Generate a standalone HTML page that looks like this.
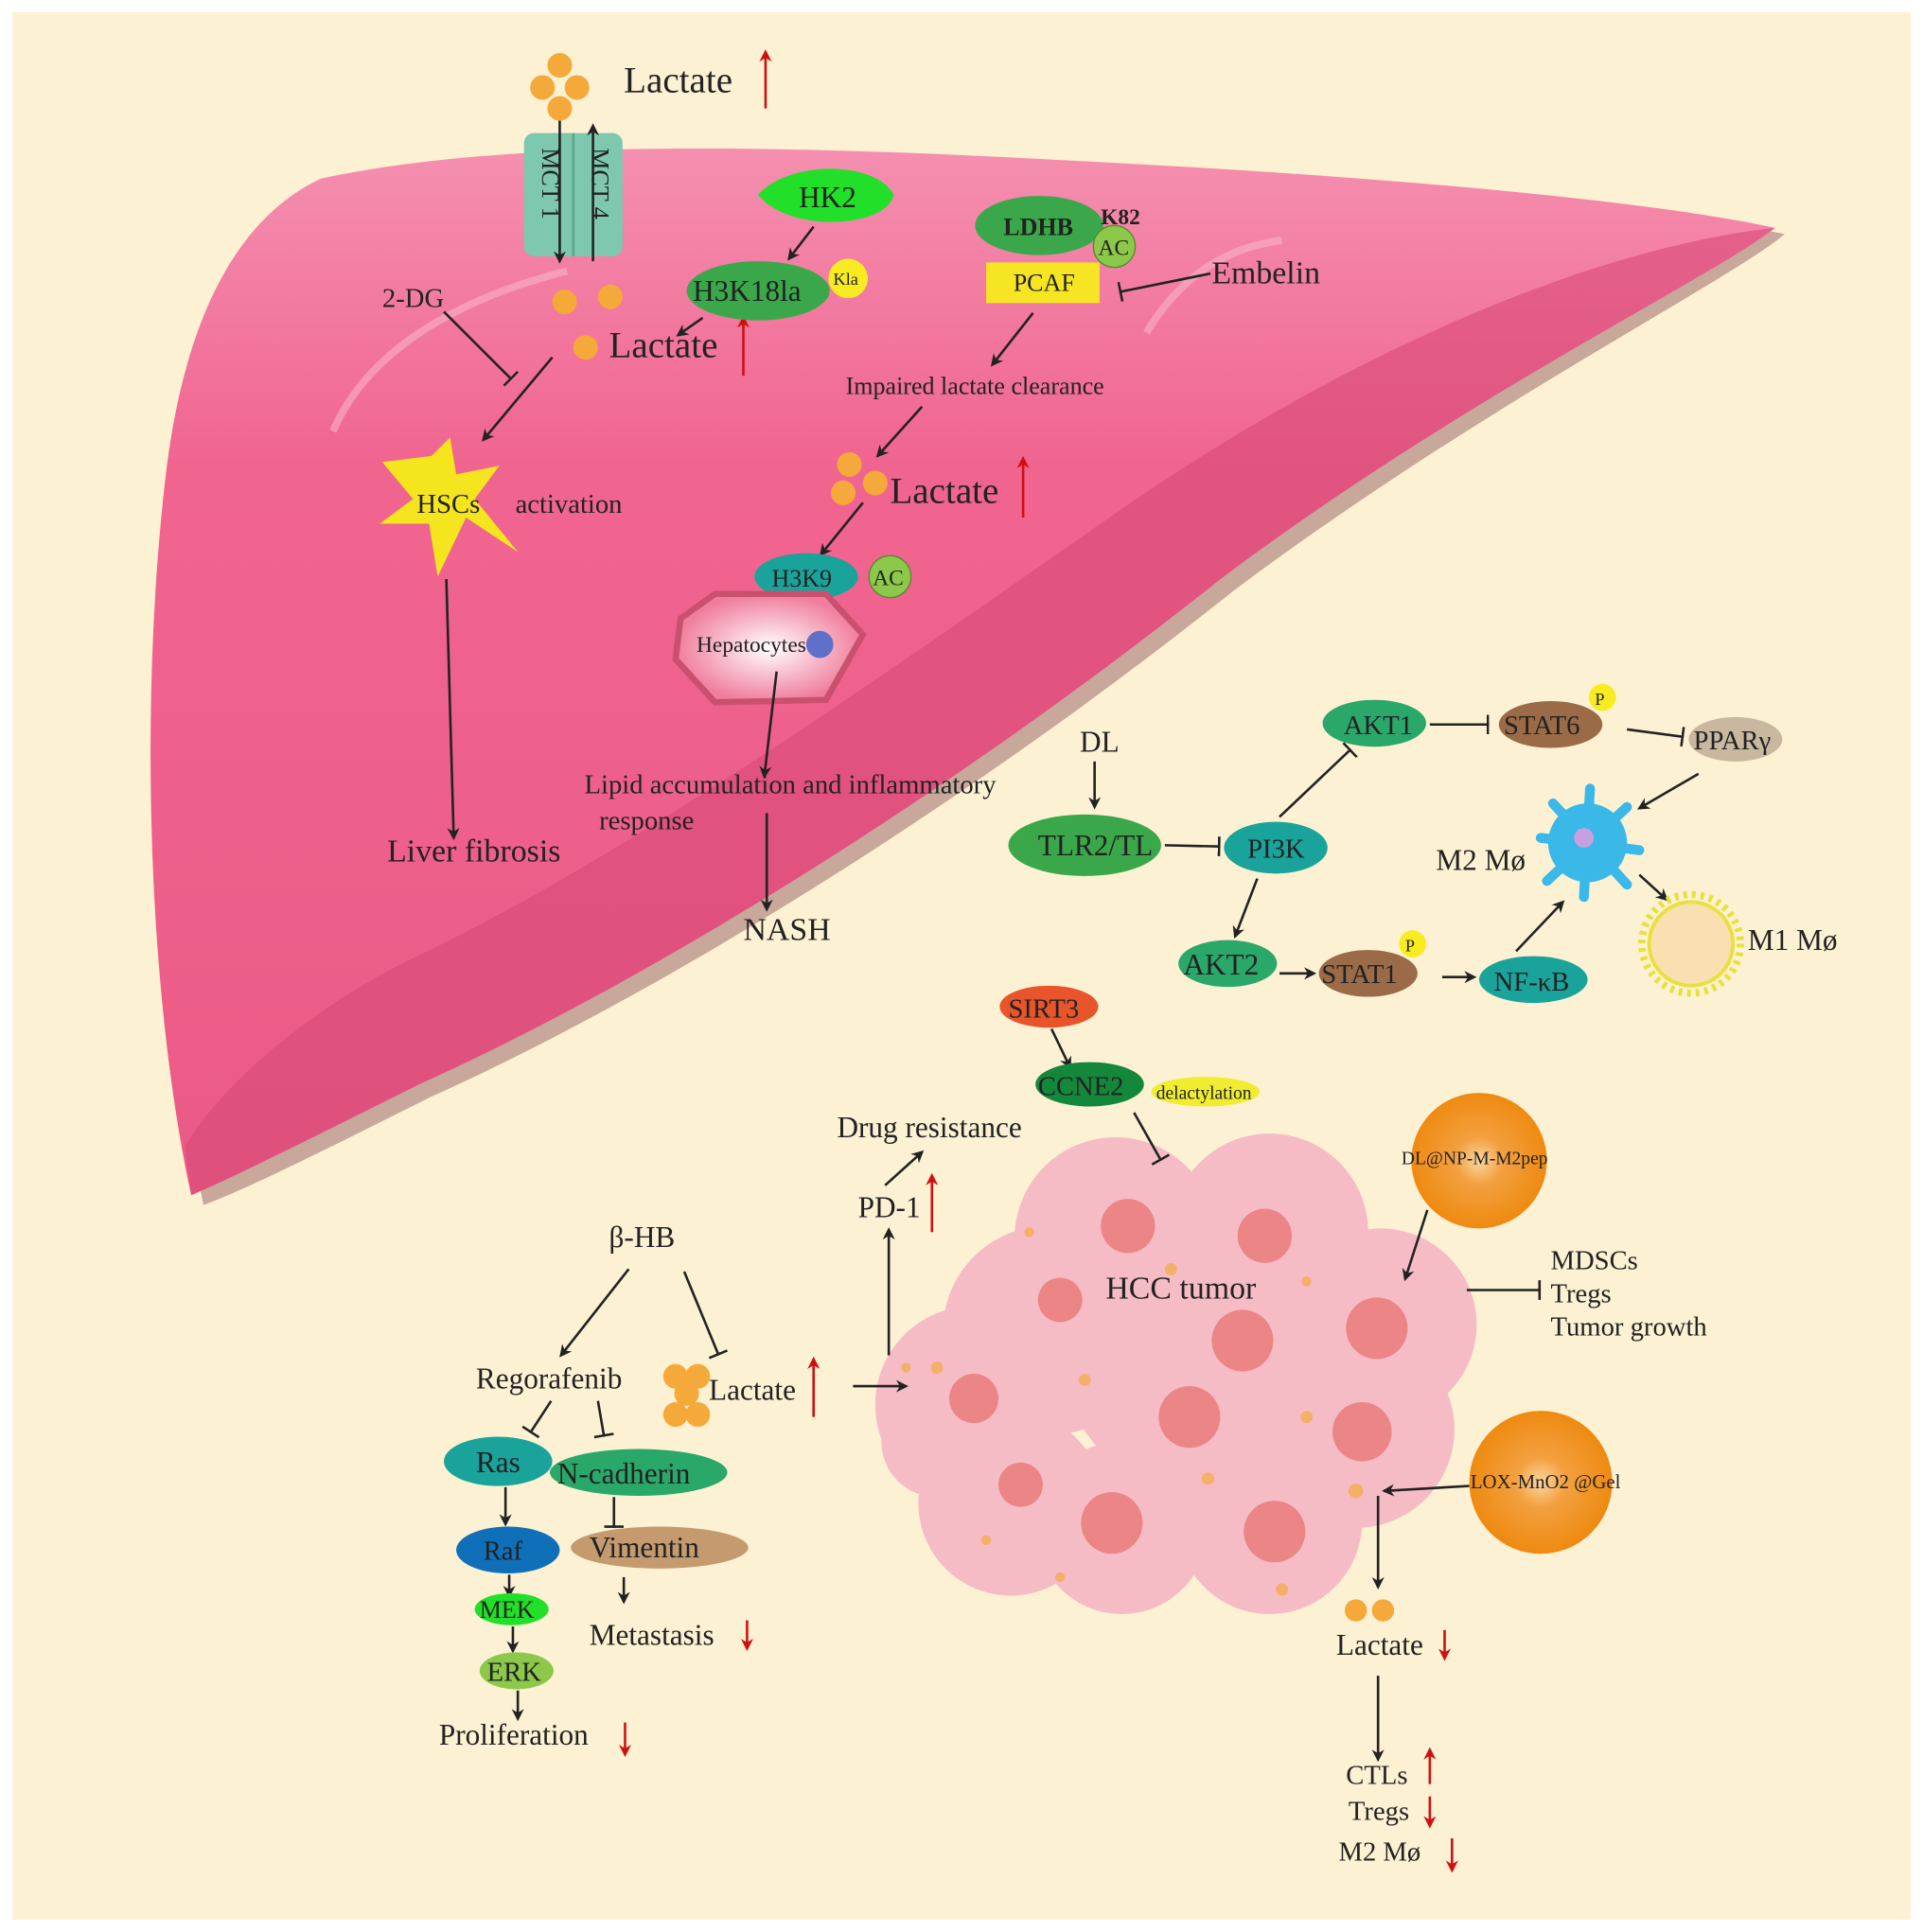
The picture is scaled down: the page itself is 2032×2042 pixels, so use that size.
<!DOCTYPE html>
<html><head><meta charset="utf-8"><style>
html,body{margin:0;padding:0;background:#fff}
svg{display:block}
text{font-family:"Liberation Serif",serif;fill:#222}
</style></head><body>
<svg width="2032" height="2042" viewBox="0 0 1560 1568" xmlns="http://www.w3.org/2000/svg">
<defs>
<marker id="a" markerWidth="10" markerHeight="10" refX="8" refY="5" orient="auto" markerUnits="userSpaceOnUse"><path d="M0,0 L10,5 L0,10 L3,5z" fill="#222"/></marker>
<marker id="t" markerWidth="4" markerHeight="16" refX="2" refY="8" orient="auto" markerUnits="userSpaceOnUse"><rect x="0" y="0" width="2" height="16" fill="#222"/></marker>
<marker id="r" markerWidth="10" markerHeight="10" refX="8" refY="5" orient="auto" markerUnits="userSpaceOnUse"><path d="M0,0 L10,5 L0,10 L3,5z" fill="#d01010"/></marker>
<linearGradient id="lg" x1="0" y1="0" x2="0" y2="1"><stop offset="0" stop-color="#f58fb0"/><stop offset="0.3" stop-color="#f06590"/><stop offset="1" stop-color="#ec5a86"/></linearGradient>
<radialGradient id="og"><stop offset="0" stop-color="#fbd7a0"/><stop offset="0.35" stop-color="#f3a040"/><stop offset="1" stop-color="#ee8a10"/></radialGradient>
<radialGradient id="hg"><stop offset="0" stop-color="#fff"/><stop offset="1" stop-color="#f07d9c"/></radialGradient>
</defs>
<rect width="1560" height="1568" fill="#fff"/>
<rect x="10" y="10" width="1540" height="1548" fill="#fdf1d3"/>
<!-- liver shadow -->
<path d="M165,978 C130,820 122,580 145,390 C160,270 200,185 270,152 C400,122 600,122 900,140 C1150,150 1350,170 1448,190 C1400,230 1200,330 1000,480 C800,640 550,800 350,890 C260,935 200,965 165,978z" fill="#c7a89a"/>
<path d="M155,970 C120,810 112,570 135,380 C150,262 190,178 260,145 C400,115 600,115 900,132 C1150,145 1350,165 1440,185 C1390,225 1190,320 990,470 C790,630 540,790 340,880 C250,925 190,955 155,970z" fill="url(#lg)"/>
<path d="M150,930 C180,880 250,820 330,780 C500,700 700,560 900,420 C1100,280 1300,200 1440,185 C1390,225 1190,320 990,470 C790,630 540,790 340,880 C250,925 190,955 155,970z" fill="#d94a76" opacity="0.6"/>
<path d="M270,350 C300,280 380,240 460,220" stroke="#f9b3c8" stroke-width="6" fill="none" opacity="0.6"/>
<path d="M930,270 C960,220 1000,200 1040,195" stroke="#f9b3c8" stroke-width="6" fill="none" opacity="0.6"/>
<!-- MCT -->
<rect x="425" y="108" width="80" height="100" rx="8" fill="#7ec8b0"/>
<line x1="465" y1="108" x2="465" y2="208" stroke="#5aa890" stroke-width="2"/>
<text x="430" y="130" font-size="20" transform="rotate(90 440 130)">MCT 1</text>
<text x="470" y="130" font-size="20" transform="rotate(90 480 130)">MCT 4</text>
<line x1="454" y1="95" x2="454" y2="212" stroke="#222" stroke-width="2" marker-end="url(#a)"/>
<line x1="481" y1="212" x2="481" y2="102" stroke="#222" stroke-width="2" marker-end="url(#a)"/>
<g fill="#f4a93a"><circle cx="454" cy="53" r="10"/><circle cx="440" cy="71" r="10"/><circle cx="468" cy="71" r="10"/><circle cx="454" cy="88" r="10"/>
<circle cx="458" cy="245" r="10"/><circle cx="495" cy="241" r="10"/><circle cx="475" cy="282" r="10"/>
<circle cx="689" cy="377" r="10"/><circle cx="684" cy="400" r="10"/><circle cx="710" cy="392" r="10"/></g>
<text x="506" y="75" font-size="30">Lactate</text>
<line x1="621" y1="88" x2="621" y2="42" stroke="#d01010" stroke-width="2" marker-end="url(#r)"/>
<text x="494" y="290" font-size="30">Lactate</text>
<line x1="603" y1="305" x2="603" y2="258" stroke="#d01010" stroke-width="2" marker-end="url(#r)"/>
<text x="722" y="408" font-size="30">Lactate</text>
<line x1="830" y1="420" x2="830" y2="372" stroke="#d01010" stroke-width="2" marker-end="url(#r)"/>
<!-- HK2 -->
<path d="M615,158 C640,130 710,130 725,158 C720,185 640,190 615,158z" fill="#22e02a"/>
<text x="648" y="168" font-size="24">HK2</text>
<line x1="660" y1="184" x2="640" y2="210" stroke="#222" stroke-width="2" marker-end="url(#a)"/>
<ellipse cx="615" cy="236" rx="58" ry="24" fill="#3aa84a"/>
<text x="562" y="244" font-size="24">H3K18la</text>
<circle cx="688" cy="226" r="16" fill="#f8ec20"/>
<text x="676" y="231" font-size="14">Kla</text>
<line x1="570" y1="258" x2="550" y2="272" stroke="#222" stroke-width="2" marker-end="url(#a)"/>
<!-- LDHB -->
<ellipse cx="843" cy="183" rx="52" ry="24" fill="#3aa84a"/>
<text x="814" y="191" font-size="20" font-weight="bold">LDHB</text>
<text x="893" y="182" font-size="18" font-weight="bold">K82</text>
<circle cx="904" cy="200" r="17" fill="#8cc84a" stroke="#558b2f"/>
<text x="891" y="207" font-size="18">AC</text>
<rect x="800" y="213" width="92" height="33" fill="#f5e522"/>
<text x="822" y="236" font-size="20">PCAF</text>
<line x1="982" y1="222" x2="908" y2="237" stroke="#222" stroke-width="2" marker-end="url(#t)"/>
<text x="983" y="230" font-size="26">Embelin</text>
<line x1="838" y1="254" x2="805" y2="296" stroke="#222" stroke-width="2" marker-end="url(#a)"/>
<text x="686" y="320" font-size="20">Impaired lactate clearance</text>
<line x1="748" y1="330" x2="712" y2="370" stroke="#222" stroke-width="2" marker-end="url(#a)"/>
<line x1="700" y1="408" x2="666" y2="450" stroke="#222" stroke-width="2" marker-end="url(#a)"/>
<ellipse cx="654" cy="468" rx="42" ry="19" fill="#1aa39a"/>
<text x="626" y="476" font-size="20">H3K9</text>
<circle cx="722" cy="468" r="17" fill="#8cc84a" stroke="#558b2f"/>
<text x="708" y="475" font-size="18">AC</text>
<path d="M552,502 L580,482 L670,482 L700,515 L670,568 L580,570 L548,535z" fill="url(#hg)" stroke="#c9506f" stroke-width="5"/>
<circle cx="665" cy="523" r="11" fill="#6070c8"/>
<text x="565" y="529" font-size="18">Hepatocytes</text>
<line x1="630" y1="545" x2="620" y2="630" stroke="#222" stroke-width="2" marker-end="url(#a)"/>
<text x="474" y="644" font-size="22">Lipid accumulation and inflammatory</text>
<text x="486" y="673" font-size="22">response</text>
<line x1="622" y1="660" x2="622" y2="738" stroke="#222" stroke-width="2" marker-end="url(#a)"/>
<text x="603" y="763" font-size="26">NASH</text>
<!-- HSC -->
<text x="310" y="249" font-size="22">2-DG</text>
<line x1="360" y1="253" x2="415" y2="308" stroke="#222" stroke-width="2" marker-end="url(#t)"/>
<line x1="448" y1="290" x2="392" y2="357" stroke="#222" stroke-width="2" marker-end="url(#a)"/>
<path d="M350,370 L365,355 L370,385 L405,378 L385,405 L420,448 L378,420 L355,468 L348,425 L308,425 L335,405 L310,375z" fill="#f5e51f"/>
<text x="338" y="416" font-size="22">HSCs</text>
<text x="418" y="416" font-size="22">activation</text>
<line x1="362" y1="470" x2="368" y2="680" stroke="#222" stroke-width="2" marker-end="url(#a)"/>
<text x="314" y="699" font-size="26">Liver fibrosis</text>
<!-- macrophage pathway -->
<text x="876" y="610" font-size="24">DL</text>
<line x1="888" y1="618" x2="888" y2="655" stroke="#222" stroke-width="2" marker-end="url(#a)"/>
<ellipse cx="880" cy="686" rx="62" ry="25" fill="#3aa84a"/>
<text x="842" y="694" font-size="24">TLR2/TL</text>
<line x1="945" y1="686" x2="990" y2="687" stroke="#222" stroke-width="2" marker-end="url(#t)"/>
<ellipse cx="1035" cy="688" rx="42" ry="21" fill="#1aa39a"/>
<text x="1012" y="696" font-size="22">PI3K</text>
<line x1="1038" y1="663" x2="1096" y2="608" stroke="#222" stroke-width="2" marker-end="url(#t)"/>
<ellipse cx="1115" cy="587" rx="42" ry="19" fill="#2aa86a"/>
<text x="1090" y="596" font-size="22">AKT1</text>
<line x1="1160" y1="588" x2="1208" y2="588" stroke="#222" stroke-width="2" marker-end="url(#t)"/>
<ellipse cx="1258" cy="588" rx="42" ry="19" fill="#9b6b48"/>
<text x="1220" y="596" font-size="22">STAT6</text>
<circle cx="1300" cy="566" r="11" fill="#f8ec20"/><text x="1294" y="572" font-size="14">P</text>
<line x1="1320" y1="592" x2="1366" y2="598" stroke="#222" stroke-width="2" marker-end="url(#t)"/>
<ellipse cx="1408" cy="600" rx="38" ry="18" fill="#c8b8a0"/>
<text x="1374" y="608" font-size="22">PPARγ</text>
<line x1="1378" y1="628" x2="1330" y2="656" stroke="#222" stroke-width="2" marker-end="url(#a)"/>
<line x1="1020" y1="713" x2="1002" y2="760" stroke="#222" stroke-width="2" marker-end="url(#a)"/>
<ellipse cx="996" cy="782" rx="40" ry="19" fill="#2aa86a"/>
<text x="960" y="791" font-size="24">AKT2</text>
<line x1="1038" y1="790" x2="1066" y2="790" stroke="#222" stroke-width="2" marker-end="url(#a)"/>
<ellipse cx="1110" cy="790" rx="40" ry="19" fill="#9b6b48"/>
<text x="1072" y="798" font-size="22">STAT1</text>
<circle cx="1146" cy="766" r="11" fill="#f8ec20"/><text x="1140" y="772" font-size="14">P</text>
<line x1="1170" y1="793" x2="1196" y2="793" stroke="#222" stroke-width="2" marker-end="url(#a)"/>
<ellipse cx="1244" cy="795" rx="44" ry="19" fill="#1aa39a"/>
<text x="1212" y="804" font-size="22">NF-κB</text>
<line x1="1230" y1="772" x2="1268" y2="732" stroke="#222" stroke-width="2" marker-end="url(#a)"/>
<g stroke="#3ab8e8" stroke-width="8" stroke-linecap="round">
<line x1="1250" y1="680" x2="1330" y2="690"/><line x1="1290" y1="640" x2="1285" y2="728"/><line x1="1260" y1="652" x2="1320" y2="718"/><line x1="1320" y1="655" x2="1255" y2="715"/></g>
<circle cx="1288" cy="684" r="32" fill="#3ab8e8"/>
<circle cx="1285" cy="680" r="8" fill="#c8a0e0"/>
<text x="1165" y="706" font-size="24">M2 Mø</text>
<line x1="1330" y1="710" x2="1352" y2="730" stroke="#222" stroke-width="2" marker-end="url(#a)"/>
<circle cx="1372" cy="766" r="40" fill="none" stroke="#e8e040" stroke-width="6" stroke-dasharray="3 4"/>
<circle cx="1372" cy="766" r="34" fill="#f8e0b0" stroke="#e8e040" stroke-width="3"/>
<text x="1418" y="771" font-size="24">M1 Mø</text>
<!-- tumor -->
<g fill="#f6bcc5">
<circle cx="905" cy="1005" r="82"/><circle cx="1030" cy="1000" r="80"/><circle cx="850" cy="1080" r="85"/><circle cx="1120" cy="1075" r="78"/>
<circle cx="790" cy="1140" r="80"/><circle cx="960" cy="1110" r="95"/><circle cx="1100" cy="1160" r="80"/><circle cx="820" cy="1220" r="75"/>
<circle cx="910" cy="1240" r="70"/><circle cx="1030" cy="1235" r="75"/><circle cx="760" cy="1170" r="45"/></g>
<g fill="#ec8585">
<circle cx="915" cy="995" r="22"/><circle cx="1026" cy="1003" r="22"/><circle cx="1008" cy="1088" r="25"/><circle cx="1117" cy="1078" r="25"/>
<circle cx="965" cy="1150" r="25"/><circle cx="1105" cy="1162" r="24"/><circle cx="902" cy="1236" r="25"/><circle cx="1034" cy="1243" r="25"/>
<circle cx="790" cy="1135" r="20"/><circle cx="860" cy="1055" r="18"/><circle cx="828" cy="1205" r="18"/></g>
<g fill="#f4b068"><circle cx="835" cy="1000" r="4"/><circle cx="950" cy="1030" r="5"/><circle cx="1060" cy="1040" r="4"/><circle cx="880" cy="1120" r="5"/><circle cx="1060" cy="1150" r="5"/><circle cx="760" cy="1110" r="5"/><circle cx="860" cy="1280" r="4"/><circle cx="980" cy="1200" r="5"/><circle cx="1100" cy="1210" r="6"/><circle cx="1040" cy="1290" r="5"/><circle cx="800" cy="1250" r="4"/><circle cx="735" cy="1110" r="4"/></g>
<text x="897" y="1054" font-size="26">HCC  tumor</text>
<ellipse cx="851" cy="817" rx="40" ry="17" fill="#e8552a"/>
<text x="818" y="826" font-size="22">SIRT3</text>
<line x1="853" y1="835" x2="868" y2="866" stroke="#222" stroke-width="2" marker-end="url(#a)"/>
<ellipse cx="884" cy="880" rx="44" ry="18" fill="#14883a"/>
<text x="842" y="889" font-size="22">CCNE2</text>
<ellipse cx="978" cy="886" rx="44" ry="12" fill="#f0ec30"/>
<text x="938" y="892" font-size="15">delactylation</text>
<line x1="920" y1="903" x2="942" y2="942" stroke="#222" stroke-width="2" marker-end="url(#t)"/>
<text x="679" y="923" font-size="24">Drug resistance</text>
<line x1="718" y1="962" x2="748" y2="935" stroke="#222" stroke-width="2" marker-end="url(#a)"/>
<text x="696" y="988" font-size="24">PD-1</text>
<line x1="756" y1="1000" x2="756" y2="954" stroke="#d01010" stroke-width="2" marker-end="url(#r)"/>
<line x1="721" y1="1100" x2="721" y2="998" stroke="#222" stroke-width="2" marker-end="url(#a)"/>
<line x1="692" y1="1125" x2="735" y2="1125" stroke="#222" stroke-width="2" marker-end="url(#a)"/>
<!-- nanoparticles -->
<circle cx="1200" cy="942" r="55" fill="url(#og)"/>
<text x="1137" y="945" font-size="15">DL@NP-M-M2pep</text>
<line x1="1158" y1="982" x2="1140" y2="1038" stroke="#222" stroke-width="2" marker-end="url(#a)"/>
<line x1="1190" y1="1047" x2="1250" y2="1047" stroke="#222" stroke-width="2" marker-end="url(#t)"/>
<text x="1258" y="1030" font-size="22">MDSCs</text>
<text x="1258" y="1057" font-size="22">Tregs</text>
<text x="1258" y="1084" font-size="22">Tumor growth</text>
<circle cx="1250" cy="1203" r="58" fill="url(#og)"/>
<text x="1193" y="1208" font-size="16">LOX-MnO2 @Gel</text>
<line x1="1192" y1="1206" x2="1123" y2="1210" stroke="#222" stroke-width="2" marker-end="url(#a)"/>
<line x1="1118" y1="1214" x2="1118" y2="1288" stroke="#222" stroke-width="2" marker-end="url(#a)"/>
<g fill="#f4a93a"><circle cx="1100" cy="1307" r="9"/><circle cx="1122" cy="1307" r="9"/></g>
<text x="1084" y="1343" font-size="24">Lactate</text>
<line x1="1172" y1="1323" x2="1172" y2="1346" stroke="#d01010" stroke-width="2" marker-end="url(#r)"/>
<line x1="1118" y1="1360" x2="1118" y2="1428" stroke="#222" stroke-width="2" marker-end="url(#a)"/>
<text x="1092" y="1448" font-size="22">CTLs</text>
<line x1="1160" y1="1448" x2="1160" y2="1420" stroke="#d01010" stroke-width="2" marker-end="url(#r)"/>
<text x="1094" y="1477" font-size="22">Tregs</text>
<line x1="1160" y1="1458" x2="1160" y2="1482" stroke="#d01010" stroke-width="2" marker-end="url(#r)"/>
<text x="1086" y="1510" font-size="22">M2 Mø</text>
<line x1="1178" y1="1492" x2="1178" y2="1518" stroke="#d01010" stroke-width="2" marker-end="url(#r)"/>
<!-- beta-HB -->
<text x="494" y="1012" font-size="24">β-HB</text>
<line x1="510" y1="1030" x2="455" y2="1100" stroke="#222" stroke-width="2" marker-end="url(#a)"/>
<line x1="555" y1="1032" x2="583" y2="1100" stroke="#222" stroke-width="2" marker-end="url(#t)"/>
<text x="386" y="1127" font-size="24">Regorafenib</text>
<g fill="#f4a93a"><circle cx="548" cy="1117" r="10"/><circle cx="566" cy="1117" r="10"/><circle cx="557" cy="1131" r="10"/><circle cx="548" cy="1148" r="10"/><circle cx="566" cy="1148" r="10"/></g>
<text x="575" y="1136" font-size="24">Lactate</text>
<line x1="660" y1="1150" x2="660" y2="1103" stroke="#d01010" stroke-width="2" marker-end="url(#r)"/>
<line x1="447" y1="1137" x2="430" y2="1163" stroke="#222" stroke-width="2" marker-end="url(#t)"/>
<line x1="485" y1="1137" x2="490" y2="1166" stroke="#222" stroke-width="2" marker-end="url(#t)"/>
<ellipse cx="404" cy="1186" rx="44" ry="20" fill="#1aa39a"/>
<text x="386" y="1195" font-size="24">Ras</text>
<ellipse cx="518" cy="1195" rx="72" ry="19" fill="#2aa86a"/>
<text x="452" y="1204" font-size="24">N-cadherin</text>
<line x1="410" y1="1207" x2="410" y2="1237" stroke="#222" stroke-width="2" marker-end="url(#a)"/>
<line x1="498" y1="1215" x2="498" y2="1240" stroke="#222" stroke-width="2" marker-end="url(#t)"/>
<ellipse cx="412" cy="1258" rx="42" ry="19" fill="#0f6fb8"/>
<text x="392" y="1266" font-size="22">Raf</text>
<ellipse cx="535" cy="1256" rx="72" ry="17" fill="#c49a6e"/>
<text x="478" y="1264" font-size="24">Vimentin</text>
<line x1="413" y1="1278" x2="413" y2="1295" stroke="#222" stroke-width="2" marker-end="url(#a)"/>
<line x1="506" y1="1280" x2="506" y2="1300" stroke="#222" stroke-width="2" marker-end="url(#a)"/>
<ellipse cx="415" cy="1306" rx="30" ry="13" fill="#22e02a"/>
<text x="389" y="1313" font-size="20">MEK</text>
<text x="478" y="1335" font-size="24">Metastasis</text>
<line x1="606" y1="1315" x2="606" y2="1338" stroke="#d01010" stroke-width="2" marker-end="url(#r)"/>
<line x1="416" y1="1320" x2="416" y2="1340" stroke="#222" stroke-width="2" marker-end="url(#a)"/>
<ellipse cx="419" cy="1356" rx="30" ry="15" fill="#8cc84a"/>
<text x="395" y="1364" font-size="22">ERK</text>
<line x1="420" y1="1372" x2="420" y2="1395" stroke="#222" stroke-width="2" marker-end="url(#a)"/>
<text x="356" y="1416" font-size="24">Proliferation</text>
<line x1="507" y1="1398" x2="507" y2="1424" stroke="#d01010" stroke-width="2" marker-end="url(#r)"/>
</svg>
</body></html>
